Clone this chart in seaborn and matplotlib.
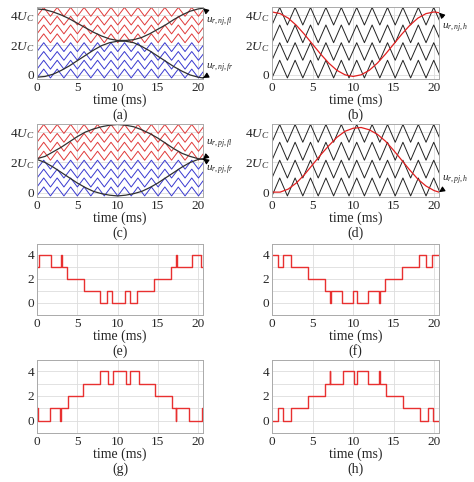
import numpy as np
import pandas as pd
import matplotlib
matplotlib.use("Agg")
import matplotlib.pyplot as plt
import seaborn as sns

sns.set_style("whitegrid")
plt.rcParams['font.family'] = ['Liberation Serif', 'DejaVu Serif']
plt.rcParams['mathtext.fontset'] = 'custom'
plt.rcParams['mathtext.it'] = 'Liberation Serif:italic'
plt.rcParams['mathtext.rm'] = 'Liberation Serif'

# ---- data ----
t_curve = [0, 1, 2, 3, 4, 5, 6, 7, 8, 9, 10, 11, 12, 13, 14, 15, 16, 17, 18, 19, 20, 20.6]
a_upper = [4.4, 4.35, 4.2, 4.0, 3.75, 3.45, 3.15, 2.85, 2.6, 2.4, 2.3, 2.3, 2.35, 2.5, 2.75, 3.05, 3.35, 3.7, 4.0, 4.25, 4.4, 4.45]
a_lower = [-0.15, -0.1, 0.05, 0.3, 0.6, 0.95, 1.3, 1.65, 1.95, 2.15, 2.25, 2.25, 2.15, 1.9, 1.6, 1.25, 0.9, 0.55, 0.25, 0.0, -0.15, -0.2]
b_ref = [4.2, 4.09, 3.79, 3.31, 2.71, 2.05, 1.39, 0.79, 0.31, 0.01, -0.1, 0.01, 0.31, 0.79, 1.39, 2.05, 2.71, 3.31, 3.79, 4.09, 4.2, 4.15]
c_upper = [2.25, 2.4, 2.7, 3.0, 3.35, 3.7, 4.0, 4.2, 4.35, 4.45, 4.5, 4.45, 4.35, 4.15, 3.9, 3.6, 3.25, 2.9, 2.6, 2.4, 2.25, 2.2]
c_lower = [2.2, 2.0, 1.7, 1.35, 1.0, 0.65, 0.35, 0.1, -0.05, -0.15, -0.2, -0.15, -0.05, 0.1, 0.35, 0.65, 1.0, 1.35, 1.7, 2.0, 2.2, 2.25]
d_ref = [0.05, 0.05, 0.25, 0.65, 1.2, 1.85, 2.5, 3.1, 3.65, 4.05, 4.25, 4.3, 4.15, 3.85, 3.4, 2.8, 2.15, 1.5, 0.9, 0.45, 0.15, 0.05]

carrier_levels_ab = [-0.2, 0.39, 0.98, 1.56, 2.15, 2.74, 3.33, 3.91, 4.5]   # 8 bands (a),(c)
carrier_period_ac = 1.67
carrier_levels_bd = [-0.2, 0.98, 2.15, 3.33, 4.5]   # 4 bands (b),(d)
carrier_period_bd = 1.9

e_t = [0, 0.2, 1.7, 3.0, 3.1, 3.7, 5.8, 7.8, 8.7, 9.3, 10.9, 11.5, 12.4, 14.5, 16.6, 17.3, 17.4, 19.2, 20.4, 20.6]
e_v = [3, 4, 3, 4, 3, 2, 1, 0, 1, 0, 1, 0, 1, 2, 3, 4, 3, 4, 3, 3]
f_t = [0, 0.74, 1.36, 2.4, 4.5, 6.5, 7.2, 7.3, 8.6, 10.0, 10.5, 11.9, 13.2, 13.3, 14.0, 16.0, 18.1, 19.0, 19.7, 20.6]
f_v = [4, 3, 4, 3, 2, 1, 0, 1, 0, 1, 0, 1, 0, 1, 2, 3, 4, 3, 4, 4]
g_t = [0, 0.1, 1.6, 2.9, 3.0, 3.8, 5.7, 7.8, 8.8, 9.4, 11.1, 11.6, 12.6, 14.7, 16.7, 17.2, 17.3, 18.9, 20.45, 20.6]
g_v = [1, 0, 1, 0, 1, 2, 3, 4, 3, 4, 3, 4, 3, 2, 1, 0, 1, 0, 1, 1]
h_t = [0, 0.7, 1.3, 2.4, 4.5, 6.5, 7.1, 7.2, 8.7, 10.1, 10.5, 11.8, 13.2, 13.3, 14.1, 16.1, 18.2, 19.2, 19.8, 20.6]
h_v = [0, 1, 0, 1, 2, 3, 4, 3, 4, 3, 4, 3, 4, 3, 2, 1, 0, 1, 0, 0]

XMAX = 20.6

fig = plt.figure(figsize=(4.74, 4.82), dpi=100)
W, H = 474, 482
def add_ax(x0, y0, x1, y1):
    return fig.add_axes([x0 / W, 1 - y1 / H, (x1 - x0) / W, (y1 - y0) / H])

lx0, lx1, rx0, rx1 = 37, 203, 272, 439
rows = [(7, 79), (124, 197), (244, 315), (360, 433)]
axes = [add_ax(lx0, rows[r][0], lx1, rows[r][1]) if c == 0 else add_ax(rx0, rows[r][0], rx1, rows[r][1])
        for r in range(4) for c in range(2)]

def carriers(ax, levels, period, colors):
    for i in range(len(levels) - 1):
        lo, hi = levels[i], levels[i + 1]
        n = int(np.ceil(XMAX / (period / 2))) + 1
        tv = np.arange(n) * period / 2
        yv = np.where(np.arange(n) % 2 == 0, lo, hi)
        df = pd.DataFrame({"t": tv, "y": yv})
        sns.lineplot(data=df, x="t", y="y", ax=ax, color=colors[i], lw=0.7, sort=False)

def style(ax, label, ylim, yticks, yticklabels):
    ax.set_xlim(0, XMAX)
    ax.set_ylim(*ylim)
    ax.set_xticks([0, 5, 10, 15, 20])
    ax.set_yticks(yticks)
    ax.set_yticklabels(yticklabels)
    ax.tick_params(labelsize=9.5, length=0, pad=2)
    ax.set_xlabel("time (ms)\n" + label, fontsize=10, labelpad=0, linespacing=1.1)
    ax.set_ylabel("")
    ax.grid(True, color="#dddddd", lw=0.6)
    for s in ax.spines.values():
        s.set_color("#aaaaaa"); s.set_linewidth(0.7)

def curve(ax, y, color, lw=0.9):
    sns.lineplot(x=t_curve, y=y, ax=ax, color=color, lw=lw, sort=False)

def arrow(ax, text, y_end, tx, ty):
    ax.annotate(text, xy=(XMAX, y_end), xycoords="data", xytext=(tx, ty), textcoords="axes fraction",
                fontsize=8, ha="left", va="center", annotation_clip=False,
                arrowprops=dict(arrowstyle="-|>", color="black", lw=0.8, mutation_scale=8, shrinkA=2, shrinkB=0))

uc_ticks = [0, 2, 4]
uc_labels = ["0", r"2$U_C$", r"4$U_C$"]
ylim_c = (-0.27, 4.53)
red8 = ["#3a3ad0"] * 4 + ["#e03a3a"] * 4

ax = axes[0]
carriers(ax, carrier_levels_ab, carrier_period_ac, red8)
curve(ax, a_upper, "#303030"); curve(ax, a_lower, "#303030")
style(ax, "(a)", ylim_c, uc_ticks, uc_labels)
arrow(ax, r"$u_{r,nj,fl}$", a_upper[-1], 1.02, 0.78)
arrow(ax, r"$u_{r,nj,fr}$", a_lower[-1], 1.02, 0.15)

ax = axes[1]
carriers(ax, carrier_levels_bd, carrier_period_bd, ["#222222"] * 4)
curve(ax, b_ref, "#e02020")
style(ax, "(b)", ylim_c, uc_ticks, uc_labels)
arrow(ax, r"$u_{r,nj,h}$", b_ref[-1], 1.02, 0.7)

ax = axes[2]
carriers(ax, carrier_levels_ab, carrier_period_ac, red8)
curve(ax, c_upper, "#303030"); curve(ax, c_lower, "#303030")
style(ax, "(c)", ylim_c, uc_ticks, uc_labels)
arrow(ax, r"$u_{r,pj,fl}$", c_upper[-1], 1.02, 0.72)
arrow(ax, r"$u_{r,pj,fr}$", c_lower[-1], 1.02, 0.36)

ax = axes[3]
carriers(ax, carrier_levels_bd, carrier_period_bd, ["#222222"] * 4)
curve(ax, d_ref, "#e02020")
style(ax, "(d)", ylim_c, uc_ticks, uc_labels)
arrow(ax, r"$u_{r,pj,h}$", d_ref[-1], 1.02, 0.22)

for ax, tt, vv, lab in zip(axes[4:], [e_t, f_t, g_t, h_t], [e_v, f_v, g_v, h_v], ["(e)", "(f)", "(g)", "(h)"]):
    df = pd.DataFrame({"t": tt, "v": vv})
    sns.lineplot(data=df, x="t", y="v", ax=ax, color="#e83030", lw=1.0, drawstyle="steps-post", sort=False)
    style(ax, lab, (-1, 4.9), [0, 2, 4], ["0", "2", "4"])
    ax.set_yticks([0, 1, 2, 3, 4], minor=True)
    ax.grid(True, which="minor", axis="y", color="#dddddd", lw=0.6)

fig.savefig("out.png", dpi=100)
